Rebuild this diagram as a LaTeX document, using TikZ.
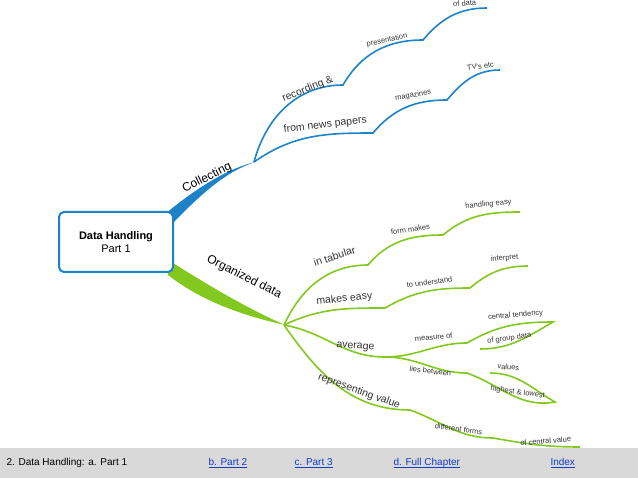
\documentclass[tikz,border=0pt]{standalone}
\usepackage{fontspec}
\setmainfont{Liberation Sans}
\begin{document}
\begin{tikzpicture}[x=1pt,y=-1pt,
  bl/.style={draw={rgb,255:red,30;green,130;blue,200},line width=1.6pt},
  gr/.style={draw={rgb,255:red,130;green,200;blue,30},line width=1.6pt},
  lb/.style={font=\fontsize{10.5}{11}\selectfont,text=black!80,inner sep=1pt,anchor=south,yshift=1pt},
  sl/.style={font=\fontsize{7.5}{8}\selectfont,text=black!80,inner sep=1pt,anchor=south,yshift=1pt},
  lk/.style={font=\fontsize{10}{12}\selectfont,text={rgb,255:red,20;green,60;blue,200},anchor=west}]
\useasboundingbox (0,0) rectangle (638,478);
\fill[black!15] (0,448) rectangle (638,478);
\definecolor{bb}{RGB}{30,130,200}
\definecolor{gg}{RGB}{130,200,30}
% central
\fill[bb] (165,214) .. controls (200,185) and (230,168) .. (255,162) .. controls (225,172) and (200,195) .. (170,226) -- cycle;
\fill[gg] (165,258) .. controls (200,280) and (240,305) .. (285,325) .. controls (240,315) and (200,300) .. (168,275) -- cycle;
\node[draw=bb,line width=2pt,rounded corners=5pt,fill=white,minimum width=114pt,minimum height=60pt,align=center,font=\fontsize{11}{13}\selectfont] (box) at (116,242) {\textbf{Data Handling}\\Part 1};
\coordinate (c) at (254,162);
\node[font=\fontsize{12}{13}\selectfont,rotate=26,anchor=south] at (211,186) {Collecting};
\node[font=\fontsize{12}{13}\selectfont,rotate=-27,anchor=south] at (240,285) {Organized data};
% blue
\coordinate (r1) at (343,85); \coordinate (r2) at (423,40); \coordinate (r3) at (487,8);
\draw[bl] (c) to[out=75,in=180] (r1) to[out=60,in=180] (r2) to[out=50,in=180] (r3);
\node[lb,rotate=22] at (310,96) {recording \&};
\node[sl,rotate=12] at (388,46) {presentation};
\node[sl,rotate=5] at (465,8) {of data};
\coordinate (n1) at (373,133); \coordinate (n2) at (447,100); \coordinate (n3) at (500,70);
\draw[bl] (c) to[out=35,in=180] (n1) to[out=50,in=180] (n2) to[out=50,in=180] (n3);
\node[lb,rotate=7] at (326,132) {from news papers};
\node[sl,rotate=10] at (414,101) {magazines};
\node[sl,rotate=8] at (481,71) {TV's etc};
% green
\coordinate (g) at (284,325);
\coordinate (t1) at (368,265); \coordinate (t2) at (443,235); \coordinate (t3) at (520,212);
\draw[gr] (g) to[out=65,in=180] (t1) to[out=50,in=180] (t2) to[out=40,in=180] (t3);
\node[lb,rotate=18] at (336,262) {in tabular};
\node[sl,rotate=8] at (411,234) {form makes};
\node[sl,rotate=6] at (489,210) {handling easy};
\coordinate (m1) at (385,308); \coordinate (m2) at (470,288); \coordinate (m3) at (528,266);
\draw[gr] (g) to[out=25,in=180] (m1) to[out=30,in=180] (m2) to[out=40,in=180] (m3);
\node[lb,rotate=6] at (345,306) {makes easy};
\node[sl,rotate=8] at (430,287) {to understand};
\node[sl,rotate=5] at (505,264) {interpret};
\coordinate (a1) at (385,357);
\draw[gr] (g) to[out=-10,in=180] (a1);
\node[lb,rotate=-4] at (355,353) {average};
\coordinate (me) at (467,343); \coordinate (ml) at (553,322);
\draw[gr] (a1) to[out=0,in=180] (me) to[out=30,in=180] (ml) to[out=210,in=0] (480,349);
\node[sl,rotate=5] at (434,342) {measure of};
\node[sl,rotate=5] at (516,321) {central tendency};
\node[sl,rotate=8] at (510,344) {of group data};
\coordinate (li) at (467,373); \coordinate (ll) at (555,402);
\draw[gr] (a1) to[out=0,in=180] (li) to[out=-20,in=190] (ll) to[out=150,in=0] (490,373);
\node[sl,rotate=-6] at (430,376) {lies between};
\node[sl,rotate=-5] at (508,372) {values};
\node[sl,rotate=-8] at (517,398) {highest \& lowest};
\coordinate (v1) at (410,410); \coordinate (v2) at (493,438); \coordinate (v3) at (580,447);
\draw[gr] (g) to[out=-55,in=180] (v1) to[out=-20,in=180] (v2) to[out=-10,in=180] (v3);
\node[lb,rotate=-20] at (357,398) {representing value};
\node[sl,rotate=-8] at (458,434) {different forms};
\node[sl,rotate=5] at (546,446) {of central value};
% footer
\node[font=\fontsize{10}{12}\selectfont,anchor=west] (f0) at (3,463) {2. Data Handling: a. Part 1};
\node[lk] (f1) at (205,463) {\underbar{b. Part 2}};
\node[lk] (f2) at (291,463) {\underbar{c. Part 3}};
\node[lk] (f3) at (390,463) {\underbar{d. Full Chapter}};
\node[lk] (f4) at (547,463) {\underbar{Index}};
\end{tikzpicture}
\end{document}
